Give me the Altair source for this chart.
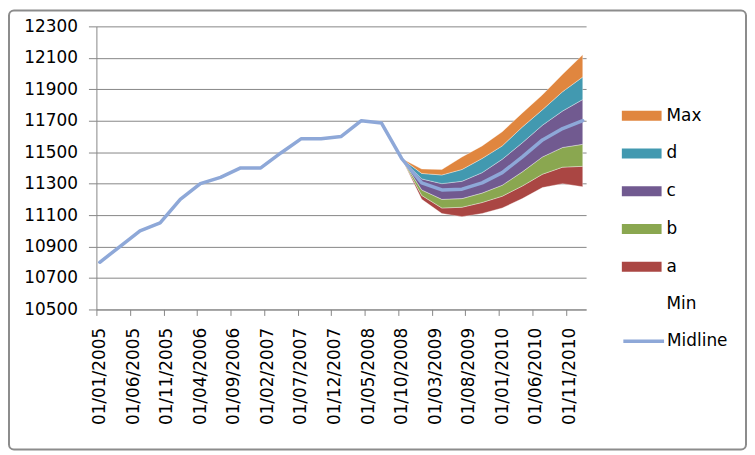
import json
import altair as alt
import pandas as pd

# ---- data ----
quarters = ["01/01/2005", "01/04/2005", "01/07/2005", "01/10/2005",
            "01/01/2006", "01/04/2006", "01/07/2006", "01/10/2006",
            "01/01/2007", "01/04/2007", "01/07/2007", "01/10/2007",
            "01/01/2008", "01/04/2008", "01/07/2008", "01/10/2008",
            "01/01/2009", "01/04/2009", "01/07/2009", "01/10/2009",
            "01/01/2010", "01/04/2010", "01/07/2010", "01/10/2010",
            "01/01/2011"]
midline = [10800, 10900, 11000, 11050,
           11200, 11300, 11340, 11400,
           11400, 11495, 11585, 11585,
           11600, 11700, 11685, 11460,
           11305, 11260, 11265, 11305,
           11370, 11470, 11578, 11650,
           11700]

fan_dates = ["01/10/2008", "01/01/2009", "01/04/2009", "01/07/2009", "01/10/2009",
             "01/01/2010", "01/04/2010", "01/07/2010", "01/10/2010", "01/01/2011"]
fan_min = [11460, 11200, 11110, 11090, 11110, 11145, 11205, 11275, 11300, 11280]
fan_a   = [11460, 11225, 11145, 11150, 11180, 11220, 11285, 11360, 11405, 11410]
fan_b   = [11460, 11260, 11200, 11205, 11240, 11290, 11375, 11470, 11530, 11550]
fan_c   = [11460, 11330, 11300, 11315, 11370, 11455, 11560, 11672, 11762, 11835]
fan_d   = [11460, 11365, 11355, 11390, 11460, 11540, 11660, 11770, 11885, 11978]
fan_max = [11460, 11393, 11390, 11470, 11540, 11630, 11750, 11865, 11995, 12120]

band_names = ["Max", "d", "c", "b", "a", "Min"]
band_colors = ["#E0863F", "#4299B0", "#715A90", "#8AA750", "#AA4643", "transparent"]
line_color = "#8EA8D8"

tick_labels = ["01/01/2005", "01/06/2005", "01/11/2005", "01/04/2006", "01/09/2006",
               "01/02/2007", "01/07/2007", "01/12/2007", "01/05/2008", "01/10/2008",
               "01/03/2009", "01/08/2009", "01/01/2010", "01/06/2010", "01/11/2010"]
y_ticks = [10500, 10700, 10900, 11100, 11300, 11500, 11700, 11900, 12100, 12300]


def month_index(s):
    d, m, y = s.split("/")
    return (int(y) - 2005) * 12 + int(m) - 1


# ---- tables ----
line_df = pd.DataFrame({
    "x": [month_index(q) + 0.5 for q in quarters],
    "value": midline,
    "series": "Midline",
})

levels = [fan_min, fan_a, fan_b, fan_c, fan_d, fan_max]
bands = ["a", "b", "c", "d", "Max"]
rows = []
for i, band in enumerate(bands):
    lo_list, hi_list = levels[i], levels[i + 1]
    for dt, lo, hi in zip(fan_dates, lo_list, hi_list):
        rows.append({"x": month_index(dt) + 0.5, "lo": lo, "hi": hi, "band": band})
fan_df = pd.DataFrame(rows)

tick_vals = [month_index(t) for t in tick_labels]
label_expr = json.dumps(tick_labels) + "[round(datum.value / 5)]"

x_scale = alt.Scale(domain=[0, 73], nice=False, zero=False)
y_scale = alt.Scale(domain=[10500, 12300], nice=False, zero=False)

x_axis = alt.Axis(values=tick_vals, labelExpr=label_expr, labelAngle=270,
                  labelOffset=3.37, tickSize=6, labelPadding=12, grid=False,
                  title=None, labelOverlap=False, labelFlush=False)
y_axis = alt.Axis(values=y_ticks, format="d", title=None, grid=True, tickSize=8,
                  labelPadding=11, labelOverlap=False, labelFlush=False)

areas = alt.Chart(fan_df).mark_area(stroke="white", strokeWidth=0.5, strokeOpacity=0.7).encode(
    x=alt.X("x:Q", scale=x_scale, axis=x_axis),
    y=alt.Y("lo:Q", scale=y_scale, axis=y_axis),
    y2="hi:Q",
    fill=alt.Fill("band:N",
                  scale=alt.Scale(domain=band_names, range=band_colors),
                  legend=alt.Legend(title=None, orient="none", legendX=536.5, legendY=77.5,
                                    symbolType="M-1.6,-0.4H1.6V0.4H-1.6Z", symbolSize=625,
                                    rowPadding=17, labelOffset=12.5, symbolStrokeWidth=0,
                                    padding=0, labelFont="DejaVu Sans", labelFontSize=17,
                                    labelColor="black", labelLimit=200)),
)

line = alt.Chart(line_df).mark_line(strokeWidth=3.5, strokeJoin="round", strokeCap="round").encode(
    x=alt.X("x:Q", scale=x_scale, axis=x_axis),
    y=alt.Y("value:Q", scale=y_scale, axis=y_axis),
    stroke=alt.Stroke("series:N",
                      scale=alt.Scale(domain=["Midline"], range=[line_color]),
                      legend=alt.Legend(title=None, orient="none", legendX=528.5, legendY=294.5,
                                        symbolType="stroke", symbolSize=1681,
                                        symbolStrokeWidth=3.5, labelOffset=1, padding=0,
                                        labelFont="DejaVu Sans", labelFontSize=17,
                                        labelColor="black", labelLimit=200)),
)

frame = alt.Chart(pd.DataFrame({"f": [0]})).mark_rect(
    filled=False, stroke="#8C8C8C", strokeWidth=2, cornerRadius=5
).encode(
    x=alt.value(-88), x2=alt.value(654), y=alt.value(-16), y2=alt.value(426)
)

chart = alt.layer(areas, line, frame).properties(
    width=493, height=285,
    autosize=alt.AutoSizeParams(type="none"),
    padding={"left": 89, "top": 17, "right": 162, "bottom": 142},
    background="white",
).configure_axis(
    domainColor="#868686", tickColor="#868686", gridColor="#868686",
    labelFont="DejaVu Sans", labelFontSize=17, labelColor="black",
    domainWidth=1, tickWidth=1, gridWidth=1,
).configure_view(strokeWidth=0)

chart.save("out.html", embed_options={"renderer": "svg", "actions": False})
